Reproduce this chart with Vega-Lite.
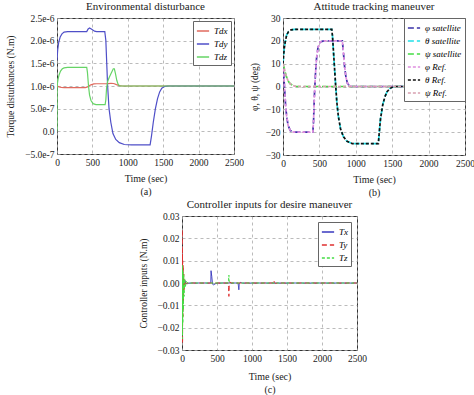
{
  "$schema": "https://vega.github.io/schema/vega-lite/v6.json",
  "background": "white",
  "padding": {"left": 5, "top": 0, "right": 2, "bottom": 0},
  "config": {
    "font": "Liberation Serif",
    "view": {"stroke": "#333", "strokeWidth": 1},
    "axis": {
      "labelFont": "Liberation Serif", "labelFontSize": 9.5, "labelColor": "#222", "labelOverlap": false, "labelFlush": false,
      "titleFont": "Liberation Serif", "titleFontSize": 10, "titleFontWeight": "normal", "titleColor": "#222",
      "gridDash": [3, 3], "gridColor": "#aaa", "gridWidth": 0.8,
      "domain": false, "ticks": false, "labelPadding": 3, "titleLineHeight": 13
    },
    "axisY": {"titleFontSize": 9.5},
    "title": {"font": "Liberation Serif", "fontSize": 11, "fontWeight": "normal", "color": "#222", "offset": 1},
    "legend": {
      "orient": "top-right", "offset": 3, "strokeColor": "#666", "fillColor": "white",
      "padding": 3, "symbolType": "stroke", "symbolSize": 150, "symbolStrokeWidth": 1.5,
      "labelFont": "Liberation Serif", "labelFontSize": 9, "labelFontStyle": "italic", "rowPadding": 1, "title": null
    }
  },
  "resolve": {"scale": {"color": "independent", "strokeDash": "independent", "strokeWidth": "independent", "x": "independent", "y": "independent"}, "legend": {"color": "independent", "strokeDash": "independent", "strokeWidth": "independent"}},
  "spacing": 0,
  "vconcat": [
    {
      "resolve": {"scale": {"color": "independent", "strokeDash": "independent", "strokeWidth": "independent", "x": "independent", "y": "independent"}, "legend": {"color": "independent", "strokeDash": "independent", "strokeWidth": "independent"}},
      "hconcat": [
        {
          "width": 177, "height": 136,
          "title": "Environmental disturbance",
          "data": {"values": [
            {"t":0,"v":1.0e-6,"s":"Tdx"},{"t":30,"v":0.98e-6,"s":"Tdx"},{"t":60,"v":0.97e-6,"s":"Tdx"},{"t":100,"v":0.965e-6,"s":"Tdx"},{"t":400,"v":0.965e-6,"s":"Tdx"},{"t":430,"v":0.98e-6,"s":"Tdx"},{"t":470,"v":1.02e-6,"s":"Tdx"},{"t":520,"v":1.045e-6,"s":"Tdx"},{"t":560,"v":1.05e-6,"s":"Tdx"},{"t":700,"v":1.05e-6,"s":"Tdx"},{"t":760,"v":1.06e-6,"s":"Tdx"},{"t":800,"v":1.055e-6,"s":"Tdx"},{"t":840,"v":1.03e-6,"s":"Tdx"},{"t":880,"v":1.01e-6,"s":"Tdx"},{"t":920,"v":1.0e-6,"s":"Tdx"},{"t":2500,"v":1.0e-6,"s":"Tdx"},
            {"t":0,"v":1.57e-6,"s":"Tdy"},{"t":10,"v":1.8e-6,"s":"Tdy"},{"t":25,"v":1.97e-6,"s":"Tdy"},{"t":45,"v":2.08e-6,"s":"Tdy"},{"t":70,"v":2.15e-6,"s":"Tdy"},{"t":100,"v":2.19e-6,"s":"Tdy"},{"t":150,"v":2.2e-6,"s":"Tdy"},{"t":420,"v":2.2e-6,"s":"Tdy"},{"t":440,"v":2.26e-6,"s":"Tdy"},{"t":460,"v":2.28e-6,"s":"Tdy"},{"t":490,"v":2.25e-6,"s":"Tdy"},{"t":530,"v":2.21e-6,"s":"Tdy"},{"t":560,"v":2.2e-6,"s":"Tdy"},{"t":675,"v":2.2e-6,"s":"Tdy"},{"t":690,"v":2.0e-6,"s":"Tdy"},{"t":700,"v":1.6e-6,"s":"Tdy"},{"t":715,"v":1.0e-6,"s":"Tdy"},{"t":735,"v":0.5e-6,"s":"Tdy"},{"t":760,"v":0.2e-6,"s":"Tdy"},{"t":790,"v":-0.05e-6,"s":"Tdy"},{"t":830,"v":-0.18e-6,"s":"Tdy"},{"t":880,"v":-0.25e-6,"s":"Tdy"},{"t":950,"v":-0.29e-6,"s":"Tdy"},{"t":1050,"v":-0.3e-6,"s":"Tdy"},{"t":1315,"v":-0.3e-6,"s":"Tdy"},{"t":1335,"v":-0.1e-6,"s":"Tdy"},{"t":1360,"v":0.2e-6,"s":"Tdy"},{"t":1390,"v":0.5e-6,"s":"Tdy"},{"t":1420,"v":0.72e-6,"s":"Tdy"},{"t":1450,"v":0.87e-6,"s":"Tdy"},{"t":1480,"v":0.95e-6,"s":"Tdy"},{"t":1520,"v":0.99e-6,"s":"Tdy"},{"t":1560,"v":1.0e-6,"s":"Tdy"},{"t":2500,"v":1.0e-6,"s":"Tdy"},
            {"t":0,"v":0,"s":"Tdz"},{"t":1,"v":0.9e-6,"s":"Tdz"},{"t":5,"v":1.05e-6,"s":"Tdz"},{"t":15,"v":1.15e-6,"s":"Tdz"},{"t":30,"v":1.25e-6,"s":"Tdz"},{"t":50,"v":1.33e-6,"s":"Tdz"},{"t":75,"v":1.38e-6,"s":"Tdz"},{"t":100,"v":1.4e-6,"s":"Tdz"},{"t":150,"v":1.41e-6,"s":"Tdz"},{"t":420,"v":1.41e-6,"s":"Tdz"},{"t":430,"v":1.3e-6,"s":"Tdz"},{"t":445,"v":1.0e-6,"s":"Tdz"},{"t":460,"v":0.8e-6,"s":"Tdz"},{"t":480,"v":0.68e-6,"s":"Tdz"},{"t":510,"v":0.61e-6,"s":"Tdz"},{"t":550,"v":0.59e-6,"s":"Tdz"},{"t":680,"v":0.59e-6,"s":"Tdz"},{"t":690,"v":0.7e-6,"s":"Tdz"},{"t":700,"v":0.95e-6,"s":"Tdz"},{"t":715,"v":1.1e-6,"s":"Tdz"},{"t":740,"v":1.2e-6,"s":"Tdz"},{"t":770,"v":1.3e-6,"s":"Tdz"},{"t":795,"v":1.38e-6,"s":"Tdz"},{"t":810,"v":1.38e-6,"s":"Tdz"},{"t":825,"v":1.28e-6,"s":"Tdz"},{"t":845,"v":1.12e-6,"s":"Tdz"},{"t":865,"v":1.03e-6,"s":"Tdz"},{"t":890,"v":1.0e-6,"s":"Tdz"},{"t":2500,"v":1.0e-6,"s":"Tdz"}
          ]},
          "mark": {"type": "line", "strokeWidth": 1.2, "clip": true},
          "encoding": {
            "x": {"field": "t", "type": "quantitative", "scale": {"domain": [0, 2500], "nice": false},
                  "axis": {"values": [0, 500, 1000, 1500, 2000, 2500], "format": "d", "title": ["Time (sec)", "(a)"], "titlePadding": 7}},
            "y": {"field": "v", "type": "quantitative", "scale": {"domain": [-5e-7, 2.5e-6], "nice": false, "zero": false},
                  "axis": {"values": [-5e-7, 0, 5e-7, 1e-6, 1.5e-6, 2e-6, 2.5e-6], "labelExpr": "datum.value == 0 ? '0.0' : format(datum.value, '.1e')", "title": "Torque disturbances (N.m)", "titlePadding": 9}},
            "color": {"field": "s", "type": "nominal", "scale": {"domain": ["Tdx", "Tdy", "Tdz"], "range": ["#e06a5e", "#4f4fc8", "#66d466"]}}
          }
        },
        {
          "width": 182, "height": 137,
          "title": "Attitude tracking maneuver",
          "data": {"values": [
            {"t":0,"v":10,"s":"φ satellite"},{"t":10,"v":5,"s":"φ satellite"},{"t":20,"v":0,"s":"φ satellite"},{"t":35,"v":-8,"s":"φ satellite"},{"t":50,"v":-13,"s":"φ satellite"},{"t":70,"v":-17,"s":"φ satellite"},{"t":100,"v":-19.3,"s":"φ satellite"},{"t":150,"v":-20,"s":"φ satellite"},{"t":410,"v":-20,"s":"φ satellite"},{"t":420,"v":-15,"s":"φ satellite"},{"t":430,"v":-5,"s":"φ satellite"},{"t":445,"v":5,"s":"φ satellite"},{"t":460,"v":12,"s":"φ satellite"},{"t":480,"v":17,"s":"φ satellite"},{"t":510,"v":19.5,"s":"φ satellite"},{"t":560,"v":20,"s":"φ satellite"},{"t":815,"v":20,"s":"φ satellite"},{"t":830,"v":15,"s":"φ satellite"},{"t":845,"v":9,"s":"φ satellite"},{"t":865,"v":4,"s":"φ satellite"},{"t":885,"v":1.5,"s":"φ satellite"},{"t":910,"v":0.3,"s":"φ satellite"},{"t":950,"v":0,"s":"φ satellite"},{"t":2500,"v":0,"s":"φ satellite"},
            {"t":0,"v":10,"s":"θ satellite"},{"t":15,"v":16,"s":"θ satellite"},{"t":30,"v":19.5,"s":"θ satellite"},{"t":50,"v":22.5,"s":"θ satellite"},{"t":75,"v":24,"s":"θ satellite"},{"t":110,"v":24.8,"s":"θ satellite"},{"t":150,"v":25,"s":"θ satellite"},{"t":670,"v":25,"s":"θ satellite"},{"t":680,"v":22,"s":"θ satellite"},{"t":700,"v":12,"s":"θ satellite"},{"t":720,"v":2,"s":"θ satellite"},{"t":740,"v":-7,"s":"θ satellite"},{"t":760,"v":-13,"s":"θ satellite"},{"t":790,"v":-18.5,"s":"θ satellite"},{"t":830,"v":-22,"s":"θ satellite"},{"t":880,"v":-24,"s":"θ satellite"},{"t":950,"v":-25,"s":"θ satellite"},{"t":1310,"v":-25,"s":"θ satellite"},{"t":1320,"v":-21,"s":"θ satellite"},{"t":1340,"v":-14,"s":"θ satellite"},{"t":1370,"v":-8,"s":"θ satellite"},{"t":1400,"v":-4.5,"s":"θ satellite"},{"t":1430,"v":-2.3,"s":"θ satellite"},{"t":1470,"v":-0.8,"s":"θ satellite"},{"t":1510,"v":-0.2,"s":"θ satellite"},{"t":1550,"v":0,"s":"θ satellite"},{"t":2500,"v":0,"s":"θ satellite"},
            {"t":0,"v":10,"s":"ψ satellite"},{"t":20,"v":7.5,"s":"ψ satellite"},{"t":40,"v":5,"s":"ψ satellite"},{"t":60,"v":3.2,"s":"ψ satellite"},{"t":80,"v":2,"s":"ψ satellite"},{"t":100,"v":1.2,"s":"ψ satellite"},{"t":130,"v":0.5,"s":"ψ satellite"},{"t":170,"v":0.1,"s":"ψ satellite"},{"t":220,"v":0,"s":"ψ satellite"},{"t":2500,"v":0,"s":"ψ satellite"},
            {"t":0,"v":10,"s":"φ Ref."},{"t":10,"v":5,"s":"φ Ref."},{"t":20,"v":0,"s":"φ Ref."},{"t":35,"v":-8,"s":"φ Ref."},{"t":50,"v":-13,"s":"φ Ref."},{"t":70,"v":-17,"s":"φ Ref."},{"t":100,"v":-19.3,"s":"φ Ref."},{"t":150,"v":-20,"s":"φ Ref."},{"t":410,"v":-20,"s":"φ Ref."},{"t":420,"v":-15,"s":"φ Ref."},{"t":430,"v":-5,"s":"φ Ref."},{"t":445,"v":5,"s":"φ Ref."},{"t":460,"v":12,"s":"φ Ref."},{"t":480,"v":17,"s":"φ Ref."},{"t":510,"v":19.5,"s":"φ Ref."},{"t":560,"v":20,"s":"φ Ref."},{"t":815,"v":20,"s":"φ Ref."},{"t":830,"v":15,"s":"φ Ref."},{"t":845,"v":9,"s":"φ Ref."},{"t":865,"v":4,"s":"φ Ref."},{"t":885,"v":1.5,"s":"φ Ref."},{"t":910,"v":0.3,"s":"φ Ref."},{"t":950,"v":0,"s":"φ Ref."},{"t":2500,"v":0,"s":"φ Ref."},
            {"t":0,"v":10,"s":"θ Ref."},{"t":15,"v":16,"s":"θ Ref."},{"t":30,"v":19.5,"s":"θ Ref."},{"t":50,"v":22.5,"s":"θ Ref."},{"t":75,"v":24,"s":"θ Ref."},{"t":110,"v":24.8,"s":"θ Ref."},{"t":150,"v":25,"s":"θ Ref."},{"t":670,"v":25,"s":"θ Ref."},{"t":680,"v":22,"s":"θ Ref."},{"t":700,"v":12,"s":"θ Ref."},{"t":720,"v":2,"s":"θ Ref."},{"t":740,"v":-7,"s":"θ Ref."},{"t":760,"v":-13,"s":"θ Ref."},{"t":790,"v":-18.5,"s":"θ Ref."},{"t":830,"v":-22,"s":"θ Ref."},{"t":880,"v":-24,"s":"θ Ref."},{"t":950,"v":-25,"s":"θ Ref."},{"t":1310,"v":-25,"s":"θ Ref."},{"t":1320,"v":-21,"s":"θ Ref."},{"t":1340,"v":-14,"s":"θ Ref."},{"t":1370,"v":-8,"s":"θ Ref."},{"t":1400,"v":-4.5,"s":"θ Ref."},{"t":1430,"v":-2.3,"s":"θ Ref."},{"t":1470,"v":-0.8,"s":"θ Ref."},{"t":1510,"v":-0.2,"s":"θ Ref."},{"t":1550,"v":0,"s":"θ Ref."},{"t":2500,"v":0,"s":"θ Ref."},
            {"t":0,"v":10,"s":"ψ Ref."},{"t":20,"v":7.5,"s":"ψ Ref."},{"t":40,"v":5,"s":"ψ Ref."},{"t":60,"v":3.2,"s":"ψ Ref."},{"t":80,"v":2,"s":"ψ Ref."},{"t":100,"v":1.2,"s":"ψ Ref."},{"t":130,"v":0.5,"s":"ψ Ref."},{"t":170,"v":0.1,"s":"ψ Ref."},{"t":220,"v":0,"s":"ψ Ref."},{"t":2500,"v":0,"s":"ψ Ref."}
          ]},
          "mark": {"type": "line", "clip": true},
          "encoding": {
            "x": {"field": "t", "type": "quantitative", "scale": {"domain": [0, 2500], "nice": false},
                  "axis": {"values": [0, 500, 1000, 1500, 2000, 2500], "format": "d", "title": ["Time (sec)", "(b)"], "titlePadding": 7}},
            "y": {"field": "v", "type": "quantitative", "scale": {"domain": [-30, 30], "nice": false},
                  "axis": {"values": [-30, -20, -10, 0, 10, 20, 30], "title": "φ, θ, ψ (deg)", "titlePadding": 6}},
            "color": {"field": "s", "type": "nominal", "legend": {"offset": 0}, "scale": {"domain": ["φ satellite", "θ satellite", "ψ satellite", "φ Ref.", "θ Ref.", "ψ Ref."], "range": ["#3a32a8", "#22e0e8", "#44dd44", "#e08ee0", "#111111", "#d8a0b0"]}},
            "strokeDash": {"field": "s", "type": "nominal", "legend": {"offset": 0}, "scale": {"domain": ["φ satellite", "θ satellite", "ψ satellite", "φ Ref.", "θ Ref.", "ψ Ref."], "range": [[6, 3], [6, 3], [6, 3], [3, 2], [3, 2], [3, 2]]}},
            "strokeWidth": {"field": "s", "type": "nominal", "legend": null, "scale": {"domain": ["φ satellite", "θ satellite", "ψ satellite", "φ Ref.", "θ Ref.", "ψ Ref."], "range": [1.7, 1.7, 1.7, 0.9, 0.9, 0.9]}}
          }
        }
      ],
      "spacing": 4
    },
    {
      "resolve": {"scale": {"color": "independent", "strokeDash": "independent", "x": "independent", "y": "independent"}, "legend": {"color": "independent", "strokeDash": "independent"}},
      "hconcat": [
        {
          "width": 80, "height": 134,
          "view": {"stroke": null},
          "data": {"values": [{"t": 0}]},
          "mark": {"type": "point", "opacity": 0},
          "encoding": {}
        },
        {
          "width": 175, "height": 134,
          "title": "Controller inputs for desire maneuver",
          "data": {"values": [
            {"t":0,"v":0,"s":"Tx"},{"t":2,"v":0.006,"s":"Tx"},{"t":5,"v":-0.004,"s":"Tx"},{"t":9,"v":0.004,"s":"Tx"},{"t":14,"v":-0.003,"s":"Tx"},{"t":20,"v":0.002,"s":"Tx"},{"t":28,"v":-0.001,"s":"Tx"},{"t":40,"v":0.0012,"s":"Tx"},{"t":55,"v":0,"s":"Tx"},{"t":70,"v":-0.0004,"s":"Tx"},{"t":100,"v":0,"s":"Tx"},{"t":410,"v":0,"s":"Tx"},{"t":415,"v":0.0055,"s":"Tx"},{"t":425,"v":0.003,"s":"Tx"},{"t":435,"v":-0.0005,"s":"Tx"},{"t":450,"v":-0.0008,"s":"Tx"},{"t":480,"v":-0.0003,"s":"Tx"},{"t":520,"v":0,"s":"Tx"},{"t":800,"v":0,"s":"Tx"},{"t":805,"v":-0.001,"s":"Tx"},{"t":812,"v":-0.003,"s":"Tx"},{"t":818,"v":-0.0005,"s":"Tx"},{"t":830,"v":0.0003,"s":"Tx"},{"t":860,"v":0,"s":"Tx"},{"t":2500,"v":0,"s":"Tx"},
            {"t":0,"v":0,"s":"Ty"},{"t":2,"v":0.024,"s":"Ty"},{"t":4,"v":-0.01,"s":"Ty"},{"t":6,"v":0.015,"s":"Ty"},{"t":8,"v":-0.027,"s":"Ty"},{"t":10,"v":0.01,"s":"Ty"},{"t":13,"v":-0.015,"s":"Ty"},{"t":16,"v":0.008,"s":"Ty"},{"t":20,"v":-0.008,"s":"Ty"},{"t":25,"v":0.004,"s":"Ty"},{"t":30,"v":-0.003,"s":"Ty"},{"t":40,"v":0.0015,"s":"Ty"},{"t":50,"v":-0.0005,"s":"Ty"},{"t":70,"v":0,"s":"Ty"},{"t":660,"v":0,"s":"Ty"},{"t":665,"v":-0.002,"s":"Ty"},{"t":670,"v":-0.006,"s":"Ty"},{"t":675,"v":-0.001,"s":"Ty"},{"t":685,"v":0.0005,"s":"Ty"},{"t":700,"v":0,"s":"Ty"},{"t":1300,"v":0,"s":"Ty"},{"t":1310,"v":0.0012,"s":"Ty"},{"t":1320,"v":0.0003,"s":"Ty"},{"t":1340,"v":-0.0002,"s":"Ty"},{"t":1370,"v":0,"s":"Ty"},{"t":2500,"v":0,"s":"Ty"},
            {"t":0,"v":0,"s":"Tz"},{"t":1,"v":0.006,"s":"Tz"},{"t":3,"v":-0.022,"s":"Tz"},{"t":5,"v":0.008,"s":"Tz"},{"t":7,"v":-0.025,"s":"Tz"},{"t":9,"v":0.006,"s":"Tz"},{"t":12,"v":-0.018,"s":"Tz"},{"t":15,"v":0.005,"s":"Tz"},{"t":19,"v":-0.012,"s":"Tz"},{"t":24,"v":0.004,"s":"Tz"},{"t":30,"v":-0.006,"s":"Tz"},{"t":38,"v":0.002,"s":"Tz"},{"t":48,"v":-0.002,"s":"Tz"},{"t":60,"v":0.0008,"s":"Tz"},{"t":80,"v":0,"s":"Tz"},{"t":660,"v":0,"s":"Tz"},{"t":665,"v":0.001,"s":"Tz"},{"t":670,"v":0.0035,"s":"Tz"},{"t":675,"v":0.0005,"s":"Tz"},{"t":690,"v":0,"s":"Tz"},{"t":2500,"v":0,"s":"Tz"}
          ]},
          "mark": {"type": "line", "strokeWidth": 1, "clip": true},
          "encoding": {
            "x": {"field": "t", "type": "quantitative", "scale": {"domain": [0, 2500], "nice": false},
                  "axis": {"values": [0, 500, 1000, 1500, 2000, 2500], "format": "d", "title": ["Time (sec)", "(c)"], "titlePadding": 9, "titleLineHeight": 13}},
            "y": {"field": "v", "type": "quantitative", "scale": {"domain": [-0.03, 0.03], "nice": false},
                  "axis": {"values": [-0.03, -0.02, -0.01, 0, 0.01, 0.02, 0.03], "format": ".2f", "title": "Controller inputs (N.m)", "titlePadding": 9}},
            "color": {"field": "s", "type": "nominal", "legend": {"offset": 6}, "scale": {"domain": ["Tx", "Ty", "Tz"], "range": ["#3a3ac0", "#e03030", "#44dd44"]}},
            "strokeDash": {"field": "s", "type": "nominal", "legend": {"offset": 6}, "scale": {"domain": ["Tx", "Ty", "Tz"], "range": [[1, 0], [5, 3], [3, 2]]}}
          }
        }
      ],
      "spacing": 0
    }
  ]
}
